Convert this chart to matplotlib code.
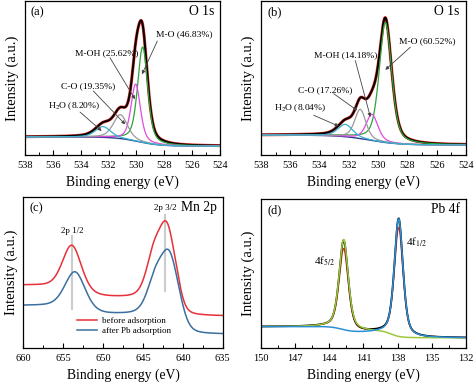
import numpy as np
import matplotlib.pyplot as plt
from matplotlib.ticker import MultipleLocator

plt.rcParams['font.family'] = ['Liberation Serif', 'DejaVu Serif']
plt.rcParams['mathtext.fontset'] = 'stix'

# ---------------- data ----------------
# (a) O 1s fitted components: centre (eV), height, FWHM (eV)
a_labels = ['M-O (46.83%)', 'M-OH (25.62%)', 'C-O (19.35%)', 'H$_2$O (8.20%)']
a_center = [529.55, 530.05, 531.15, 532.40]
a_height = [0.62, 0.37, 0.155, 0.07]
a_fwhm = [0.85, 0.80, 1.20, 1.30]
a_bg = [0.058, 0.117, 529.9, 0.8]          # low side, high side, step centre, step width
a_text = [(526.6, 0.785), (532.1, 0.664), (533.45, 0.448), (534.5, 0.314)]
a_tail = [(528.5, 0.74), (531.9, 0.632), (533.1, 0.416), (534.05, 0.279)]
a_head = [(529.6, 0.524), (530.1, 0.362), (530.8, 0.199), (532.5, 0.156)]

# (b) O 1s after adsorption
b_labels = ['M-O (60.52%)', 'M-OH (14.18%)', 'C-O (17.26%)', 'H$_2$O (8.04%)']
b_center = [529.50, 530.42, 531.22, 532.24]
b_height = [0.78, 0.17, 0.19, 0.08]
b_fwhm = [1.00, 0.95, 0.90, 1.20]
b_bg = [0.065, 0.129, 530.6, 1.0]
b_text = [(526.66, 0.742), (532.24, 0.645), (533.6, 0.424), (535.3, 0.301)]
b_tail = [(527.8, 0.70), (531.56, 0.613), (533.03, 0.398), (534.4, 0.258)]
b_head = [(529.51, 0.553), (530.53, 0.247), (531.44, 0.29), (532.69, 0.187)]

# (c) Mn 2p spectra: peaks (centre, height, FWHM) and background steps
c_red_center = [642.0, 643.7, 653.9]
c_red_height = [0.45, 0.24, 0.30]
c_red_fwhm = [2.4, 2.2, 2.8]
c_red_bg = [0.21, 0.12, 640.3, 0.35, 0.085, 653.5, 1.5]
c_blue_center = [641.7, 643.5, 653.5]
c_blue_height = [0.38, 0.20, 0.25]
c_blue_fwhm = [2.6, 2.4, 3.0]
c_blue_bg = [0.09, 0.13, 640.0, 0.5, 0.06, 653.3, 1.2]
c_marks = [653.9, 642.2]

# (d) Pb 4f
d_center = [142.74, 137.91]
d_height = [0.60, 0.79]
d_raw_height = [0.545, 0.73]
d_fwhm = [0.95, 0.90]
d_bg_green = [0.068, 0.045, 138.6, 0.4, 0.030, 142.7, 0.5]
d_bg_blue = [0.068, 0.035, 138.3, 0.4, 0.040, 142.9, 0.5]


def pv(x, c, h, w, eta=0.3):
    g = np.exp(-4 * np.log(2) * ((x - c) / w) ** 2)
    l = 1 / (1 + 4 * ((x - c) / w) ** 2)
    return h * ((1 - eta) * g + eta * l)


def sig(x, c, w):
    return 1 / (1 + np.exp(-(x - c) / w))


def steps(x, p):
    return p[0] + p[1] * sig(x, p[2], p[3]) + p[4] * sig(x, p[5], p[6])


def style(ax, lo, hi, major, minor, title, letter):
    ax.set_xlim(lo, hi)
    ax.set_ylim(0, 1)
    ax.set_yticks([])
    ax.xaxis.set_major_locator(MultipleLocator(major))
    ax.xaxis.set_minor_locator(MultipleLocator(minor))
    ax.tick_params(axis='x', which='major', direction='in', length=3.5, width=0.8, labelsize=7.5, pad=4.5)
    ax.tick_params(axis='x', which='minor', direction='in', length=2, width=0.7)
    for s in ax.spines.values():
        s.set_linewidth(0.9)
    ax.set_xlabel('Binding energy (eV)', fontsize=9.8, labelpad=4)
    ax.set_ylabel('Intensity (a.u.)', fontsize=10.5, labelpad=4)
    ax.text(0.03, 0.965, letter, transform=ax.transAxes, fontsize=9, va='top', ha='left')
    ax.text(0.97, 0.93, title, transform=ax.transAxes, fontsize=9.8, va='center', ha='right')


fig = plt.figure(figsize=(4.74, 3.83), dpi=100)
ax_a = fig.add_axes([0.0527, 0.5953, 0.4114, 0.4021])
ax_b = fig.add_axes([0.5506, 0.5953, 0.4325, 0.4021])
ax_c = fig.add_axes([0.0492, 0.0914, 0.4207, 0.3943])
ax_d = fig.add_axes([0.5506, 0.0914, 0.4325, 0.3890])

comp_colors = ['#2fa33a', '#e04be0', '#9a9a9a', '#35b3cf']

for ax, cen, hgt, fw, bgp, labels, txt, tail, head in [
        (ax_a, a_center, a_height, a_fwhm, a_bg, a_labels, a_text, a_tail, a_head),
        (ax_b, b_center, b_height, b_fwhm, b_bg, b_labels, b_text, b_tail, b_head)]:
    x = np.linspace(538, 524, 700)
    bg = bgp[0] + (bgp[1] - bgp[0]) * sig(x, bgp[2], bgp[3])
    env = bg + sum(pv(x, c, h, w, 0.45) for c, h, w in zip(cen, hgt, fw))
    ax.plot(x, env, color='#e8332a', lw=2.2)
    ax.plot(x, env, color='black', lw=1.4)
    ax.plot(x, bg, color='#2a3b8f', lw=1.0)
    for c, h, w, col in zip(cen, hgt, fw, comp_colors):
        ax.plot(x, bg + pv(x, c, h, w, 0.45), color=col, lw=0.9)
    for lab, t, s, e in zip(labels, txt, tail, head):
        ax.text(t[0], t[1], lab, fontsize=6.8, ha='center', va='center')
        ax.annotate('', xy=e, xytext=s,
                    arrowprops=dict(arrowstyle='-|>', color='#444444', lw=0.6,
                                    mutation_scale=5, shrinkA=0, shrinkB=0))

style(ax_a, 538, 524, 2, 1, 'O 1s', '(a)')
style(ax_b, 538, 524, 2, 1, 'O 1s', '(b)')

# (c)
xc = np.linspace(660, 635, 800)
red_c = steps(xc, c_red_bg) + sum(pv(xc, c, h, w) for c, h, w in zip(c_red_center, c_red_height, c_red_fwhm))
blue_c = steps(xc, c_blue_bg) + sum(pv(xc, c, h, w) for c, h, w in zip(c_blue_center, c_blue_height, c_blue_fwhm))
ax_c.plot([c_marks[0], c_marks[0]], [0.26, 0.74], color='#cccccc', lw=1.5)
ax_c.plot([c_marks[1], c_marks[1]], [0.38, 0.88], color='#cccccc', lw=1.5)
ax_c.plot(xc, red_c, color='#e8303a', lw=1.1, label='before adsorption')
ax_c.plot(xc, blue_c, color='#3a6f9f', lw=1.1, label='after Pb adsorption')
ax_c.text(c_marks[0], 0.775, '2p 1/2', fontsize=6.5, ha='center', va='center')
ax_c.text(c_marks[1], 0.925, '2p 3/2', fontsize=6.5, ha='center', va='center')
ax_c.legend(loc='lower left', bbox_to_anchor=(0.23, 0.03), frameon=False, fontsize=6.5,
            handlelength=2.2, handletextpad=0.5, labelspacing=0.25)
style(ax_c, 660, 635, 5, 2.5, 'Mn 2p', '(c)')

# (d)
xd = np.linspace(150, 132, 800)
bgG = steps(xd, d_bg_green)
bgB = steps(xd, d_bg_blue)
pG = pv(xd, d_center[0], d_height[0], d_fwhm[0], 0.5)
pB = pv(xd, d_center[1], d_height[1], d_fwhm[1], 0.5)
raw = bgB + pv(xd, d_center[0], d_raw_height[0], d_fwhm[0], 0.5) + pv(xd, d_center[1], d_raw_height[1], d_fwhm[1], 0.5)
ax_d.plot(xd, raw, color='#e8332a', lw=1.0)
ax_d.plot(xd, bgB + pG + pB, color='black', lw=1.3)
ax_d.plot(xd, bgG + pG, color='#9cc83a', lw=1.1)
ax_d.plot(xd, bgB + pB, color='#2b8fd6', lw=1.1)
ax_d.text(144.4, 0.585, '4f$_{5/2}$', fontsize=8, ha='center', va='center')
ax_d.text(136.3, 0.71, '4f$_{1/2}$', fontsize=8, ha='center', va='center')
style(ax_d, 150, 132, 3, 1.5, 'Pb 4f', '(d)')

fig.savefig('out.png', dpi=100)
